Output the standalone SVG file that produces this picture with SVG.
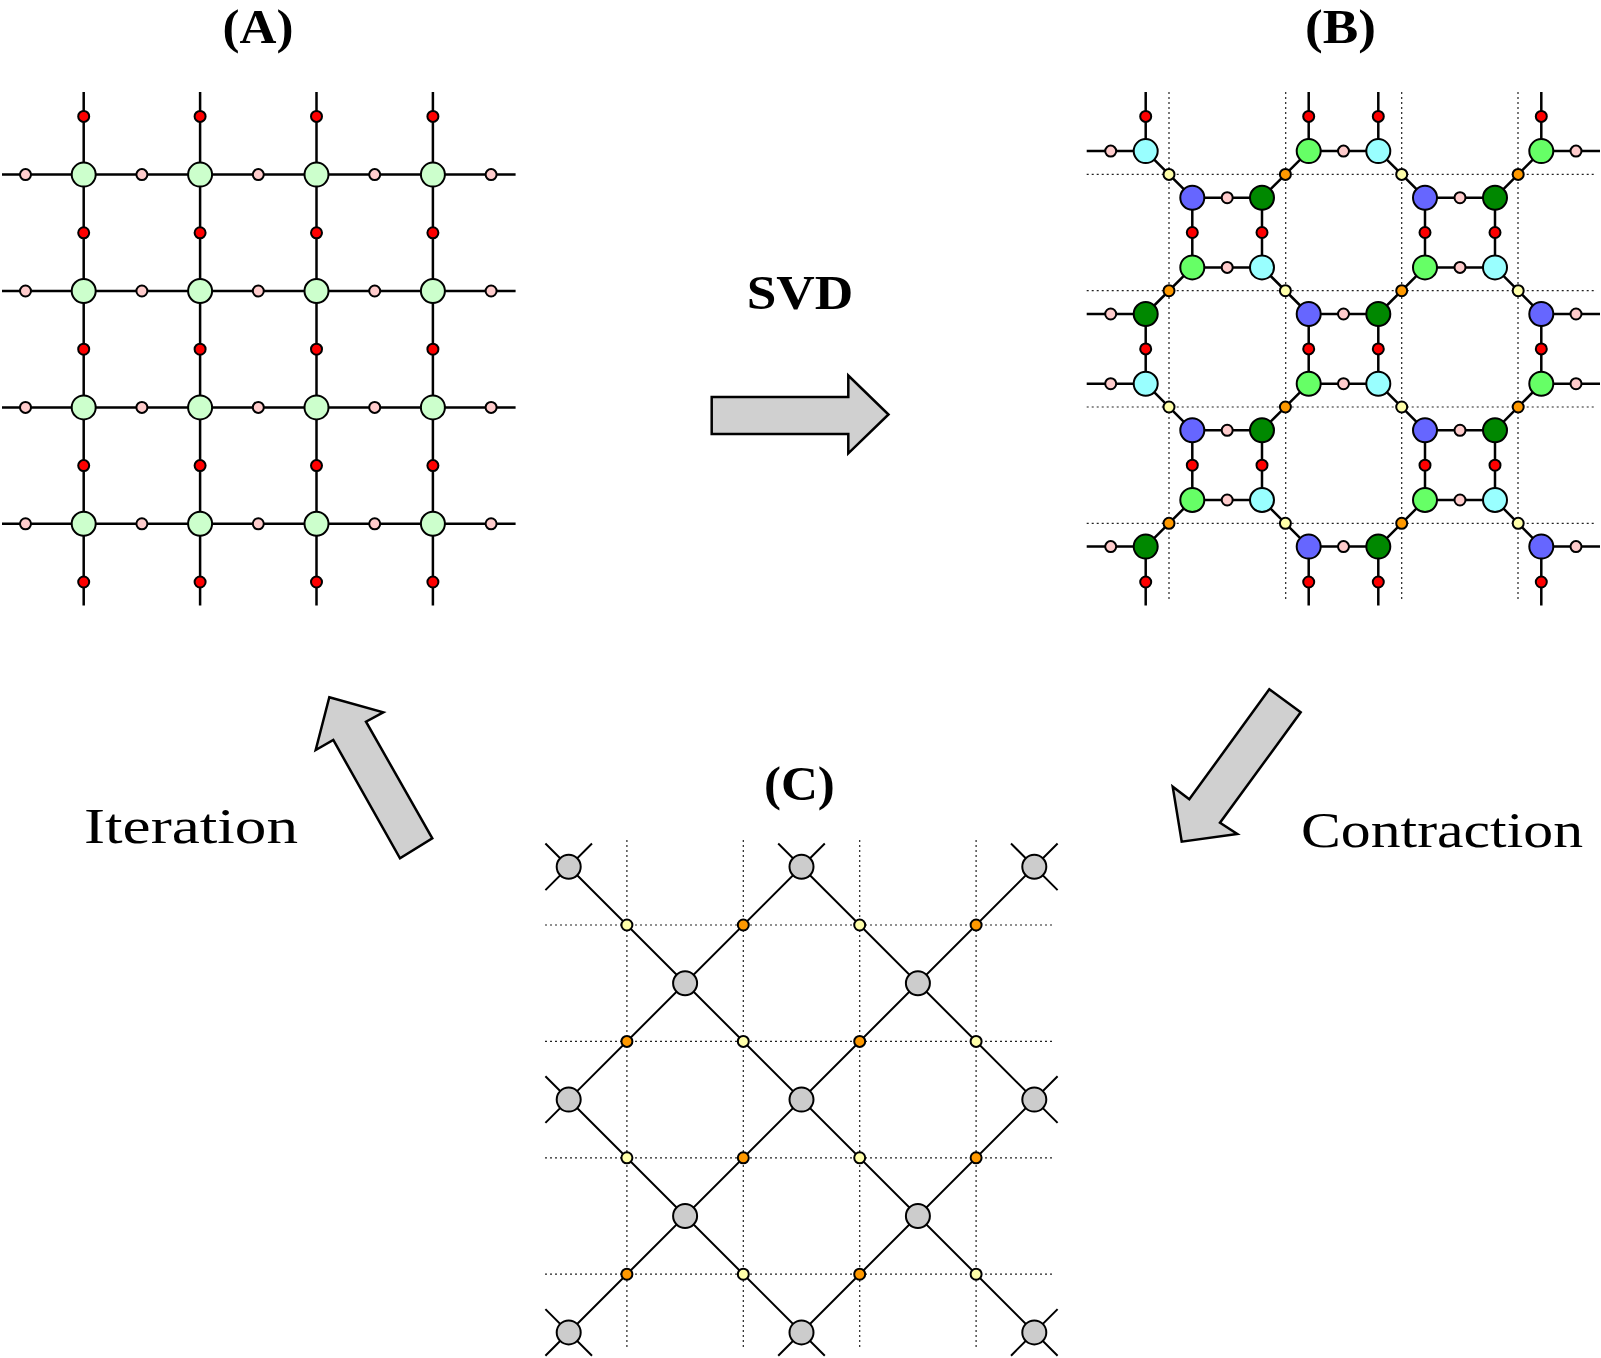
<svg xmlns="http://www.w3.org/2000/svg" width="1601" height="1358" viewBox="0 0 1601 1358">
<style>
.e{stroke:#000;stroke-width:2.5;fill:none}
.ec{stroke:#000;stroke-width:2;fill:none}
.d{stroke:#222;stroke-width:1.2;stroke-dasharray:2,3;fill:none}
circle{stroke:#000;stroke-width:2}
.lgA{fill:#ccffcc}.red{fill:#ff0000}.pk{fill:#ffcccc}
.cy{fill:#99ffff}.lg{fill:#66ff66}.dg{fill:#008800}.bl{fill:#6666ff}
.ye{fill:#ffffaa}.or{fill:#ff9900}.gr{fill:#cccccc}
.ar{fill:#d0d0d0;stroke:#000;stroke-width:2.5;stroke-linejoin:miter}
.t{font-family:"Liberation Serif",serif;fill:#000}
.tb{font-weight:bold}
</style>
<rect width="1601" height="1358" fill="#fff"/>
<g id="titles">
<text class="t tb" x="258" y="43" font-size="48" text-anchor="middle" textLength="71" lengthAdjust="spacingAndGlyphs">(A)</text>
<text class="t tb" x="1340.6" y="43" font-size="48" text-anchor="middle" textLength="71" lengthAdjust="spacingAndGlyphs">(B)</text>
<text class="t tb" x="799.4" y="800" font-size="48" text-anchor="middle" textLength="71" lengthAdjust="spacingAndGlyphs">(C)</text>
<text class="t tb" x="746.7" y="309.3" font-size="48" textLength="106.6" lengthAdjust="spacingAndGlyphs">SVD</text>
<text class="t" x="1301" y="847" font-size="50" textLength="282" lengthAdjust="spacingAndGlyphs">Contraction</text>
<text class="t" x="84" y="843" font-size="50" textLength="214" lengthAdjust="spacingAndGlyphs">Iteration</text>
</g>
<g id="arrows">
<polygon class="ar" points="711.7,397 848.3,397 848.3,375.5 888.5,414.5 848.3,453.3 848.3,434 711.7,434"/>
<polygon class="ar" points="1269.3,689.3 1300.7,712.3 1220,822.7 1237.3,834 1181.7,841.7 1172.7,786.7 1189.3,799.3"/>
<polygon class="ar" points="329.3,697.3 383.3,712.3 366,721.7 432.3,838.3 400,858.3 333.3,740 315.7,750"/>
</g>
<g id="panelA">
<g id="A-edges">
<path class="e" d="M83.7,92V605.5M200.1,92V605.5M316.5,92V605.5M432.9,92V605.5M2,174.6H515.6M2,291H515.6M2,407.4H515.6M2,523.8H515.6"/>
</g>
<g id="A-nodes">
<g class="red">
<circle cx="83.7" cy="116.4" r="5.5"/><circle cx="83.7" cy="232.8" r="5.5"/><circle cx="83.7" cy="349.2" r="5.5"/><circle cx="83.7" cy="465.6" r="5.5"/><circle cx="83.7" cy="582" r="5.5"/>
<circle cx="200.1" cy="116.4" r="5.5"/><circle cx="200.1" cy="232.8" r="5.5"/><circle cx="200.1" cy="349.2" r="5.5"/><circle cx="200.1" cy="465.6" r="5.5"/><circle cx="200.1" cy="582" r="5.5"/>
<circle cx="316.5" cy="116.4" r="5.5"/><circle cx="316.5" cy="232.8" r="5.5"/><circle cx="316.5" cy="349.2" r="5.5"/><circle cx="316.5" cy="465.6" r="5.5"/><circle cx="316.5" cy="582" r="5.5"/>
<circle cx="432.9" cy="116.4" r="5.5"/><circle cx="432.9" cy="232.8" r="5.5"/><circle cx="432.9" cy="349.2" r="5.5"/><circle cx="432.9" cy="465.6" r="5.5"/><circle cx="432.9" cy="582" r="5.5"/>
</g>
<g class="pk">
<circle cx="25.5" cy="174.6" r="5.5"/><circle cx="141.9" cy="174.6" r="5.5"/><circle cx="258.3" cy="174.6" r="5.5"/><circle cx="374.7" cy="174.6" r="5.5"/><circle cx="491.1" cy="174.6" r="5.5"/>
<circle cx="25.5" cy="291" r="5.5"/><circle cx="141.9" cy="291" r="5.5"/><circle cx="258.3" cy="291" r="5.5"/><circle cx="374.7" cy="291" r="5.5"/><circle cx="491.1" cy="291" r="5.5"/>
<circle cx="25.5" cy="407.4" r="5.5"/><circle cx="141.9" cy="407.4" r="5.5"/><circle cx="258.3" cy="407.4" r="5.5"/><circle cx="374.7" cy="407.4" r="5.5"/><circle cx="491.1" cy="407.4" r="5.5"/>
<circle cx="25.5" cy="523.8" r="5.5"/><circle cx="141.9" cy="523.8" r="5.5"/><circle cx="258.3" cy="523.8" r="5.5"/><circle cx="374.7" cy="523.8" r="5.5"/><circle cx="491.1" cy="523.8" r="5.5"/>
</g>
<g class="lgA">
<circle cx="83.7" cy="174.6" r="12"/><circle cx="200.1" cy="174.6" r="12"/><circle cx="316.5" cy="174.6" r="12"/><circle cx="432.9" cy="174.6" r="12"/>
<circle cx="83.7" cy="291" r="12"/><circle cx="200.1" cy="291" r="12"/><circle cx="316.5" cy="291" r="12"/><circle cx="432.9" cy="291" r="12"/>
<circle cx="83.7" cy="407.4" r="12"/><circle cx="200.1" cy="407.4" r="12"/><circle cx="316.5" cy="407.4" r="12"/><circle cx="432.9" cy="407.4" r="12"/>
<circle cx="83.7" cy="523.8" r="12"/><circle cx="200.1" cy="523.8" r="12"/><circle cx="316.5" cy="523.8" r="12"/><circle cx="432.9" cy="523.8" r="12"/>
</g>
</g>
</g>
<g id="panelB">
<g id="B-guides">
<path class="d" d="M1169,92V600M1285.7,92V600M1401.7,92V600M1518,92V600M1086.7,174.4H1596.7M1086.7,290.7H1596.7M1086.7,407H1596.7M1086.7,523.3H1596.7"/>
</g>
<g id="B-edges">
<path class="e" d="M1086.7,151.1H1145.7M1308.7,151.1H1378.3M1541.3,151.1H1600
M1192.3,197.7H1262M1425,197.7H1495M1192.3,267.4H1262M1425,267.4H1495
M1086.7,314H1145.7M1308.7,314H1378.3M1541.3,314H1600
M1086.7,383.7H1145.7M1308.7,383.7H1378.3M1541.3,383.7H1600
M1192.3,430.3H1262M1425,430.3H1495M1192.3,500H1262M1425,500H1495
M1086.7,546.6H1145.7M1308.7,546.6H1378.3M1541.3,546.6H1600
M1145.7,92V151.1M1308.7,92V151.1M1378.3,92V151.1M1541.3,92V151.1
M1145.7,314V383.7M1308.7,314V383.7M1378.3,314V383.7M1541.3,314V383.7
M1145.7,546.6V605.5M1308.7,546.6V605.5M1378.3,546.6V605.5M1541.3,546.6V605.5
M1192.3,197.7V267.4M1262,197.7V267.4M1425,197.7V267.4M1495,197.7V267.4
M1192.3,430.3V500M1262,430.3V500M1425,430.3V500M1495,430.3V500
M1145.7,151.1L1192.3,197.7M1308.7,151.1L1262,197.7M1378.3,151.1L1425,197.7M1541.3,151.1L1495,197.7
M1192.3,267.4L1145.7,314M1262,267.4L1308.7,314M1425,267.4L1378.3,314M1495,267.4L1541.3,314
M1145.7,383.7L1192.3,430.3M1308.7,383.7L1262,430.3M1378.3,383.7L1425,430.3M1541.3,383.7L1495,430.3
M1192.3,500L1145.7,546.6M1262,500L1308.7,546.6M1425,500L1378.3,546.6M1495,500L1541.3,546.6"/>
</g>
<g id="B-small">
<g class="pk">
<circle cx="1110.7" cy="151.1" r="5.5"/><circle cx="1343.5" cy="151.1" r="5.5"/><circle cx="1576" cy="151.1" r="5.5"/>
<circle cx="1227.2" cy="197.7" r="5.5"/><circle cx="1460" cy="197.7" r="5.5"/><circle cx="1227.2" cy="267.4" r="5.5"/><circle cx="1460" cy="267.4" r="5.5"/>
<circle cx="1110.7" cy="314" r="5.5"/><circle cx="1343.5" cy="314" r="5.5"/><circle cx="1576" cy="314" r="5.5"/>
<circle cx="1110.7" cy="383.7" r="5.5"/><circle cx="1343.5" cy="383.7" r="5.5"/><circle cx="1576" cy="383.7" r="5.5"/>
<circle cx="1227.2" cy="430.3" r="5.5"/><circle cx="1460" cy="430.3" r="5.5"/><circle cx="1227.2" cy="500" r="5.5"/><circle cx="1460" cy="500" r="5.5"/>
<circle cx="1110.7" cy="546.6" r="5.5"/><circle cx="1343.5" cy="546.6" r="5.5"/><circle cx="1576" cy="546.6" r="5.5"/>
</g>
<g class="red">
<circle cx="1145.7" cy="116.4" r="5.5"/><circle cx="1308.7" cy="116.4" r="5.5"/><circle cx="1378.3" cy="116.4" r="5.5"/><circle cx="1541.3" cy="116.4" r="5.5"/>
<circle cx="1145.7" cy="348.9" r="5.5"/><circle cx="1308.7" cy="348.9" r="5.5"/><circle cx="1378.3" cy="348.9" r="5.5"/><circle cx="1541.3" cy="348.9" r="5.5"/>
<circle cx="1145.7" cy="582" r="5.5"/><circle cx="1308.7" cy="582" r="5.5"/><circle cx="1378.3" cy="582" r="5.5"/><circle cx="1541.3" cy="582" r="5.5"/>
<circle cx="1192.3" cy="232.5" r="5.5"/><circle cx="1262" cy="232.5" r="5.5"/><circle cx="1425" cy="232.5" r="5.5"/><circle cx="1495" cy="232.5" r="5.5"/>
<circle cx="1192.3" cy="465.2" r="5.5"/><circle cx="1262" cy="465.2" r="5.5"/><circle cx="1425" cy="465.2" r="5.5"/><circle cx="1495" cy="465.2" r="5.5"/>
</g>
<circle class="ye" cx="1169" cy="174.4" r="5.5"/><circle class="or" cx="1285.4" cy="174.4" r="5.5"/><circle class="ye" cx="1401.7" cy="174.4" r="5.5"/><circle class="or" cx="1518.2" cy="174.4" r="5.5"/>
<circle class="or" cx="1169" cy="290.7" r="5.5"/><circle class="ye" cx="1285.4" cy="290.7" r="5.5"/><circle class="or" cx="1401.7" cy="290.7" r="5.5"/><circle class="ye" cx="1518.2" cy="290.7" r="5.5"/>
<circle class="ye" cx="1169" cy="407" r="5.5"/><circle class="or" cx="1285.4" cy="407" r="5.5"/><circle class="ye" cx="1401.7" cy="407" r="5.5"/><circle class="or" cx="1518.2" cy="407" r="5.5"/>
<circle class="or" cx="1169" cy="523.3" r="5.5"/><circle class="ye" cx="1285.4" cy="523.3" r="5.5"/><circle class="or" cx="1401.7" cy="523.3" r="5.5"/><circle class="ye" cx="1518.2" cy="523.3" r="5.5"/>
</g>
<g id="B-nodes">
<circle class="cy" cx="1145.7" cy="151.1" r="12"/><circle class="lg" cx="1308.7" cy="151.1" r="12"/><circle class="cy" cx="1378.3" cy="151.1" r="12"/><circle class="lg" cx="1541.3" cy="151.1" r="12"/>
<circle class="bl" cx="1192.3" cy="197.7" r="12"/><circle class="dg" cx="1262" cy="197.7" r="12"/><circle class="bl" cx="1425" cy="197.7" r="12"/><circle class="dg" cx="1495" cy="197.7" r="12"/>
<circle class="lg" cx="1192.3" cy="267.4" r="12"/><circle class="cy" cx="1262" cy="267.4" r="12"/><circle class="lg" cx="1425" cy="267.4" r="12"/><circle class="cy" cx="1495" cy="267.4" r="12"/>
<circle class="dg" cx="1145.7" cy="314" r="12"/><circle class="bl" cx="1308.7" cy="314" r="12"/><circle class="dg" cx="1378.3" cy="314" r="12"/><circle class="bl" cx="1541.3" cy="314" r="12"/>
<circle class="cy" cx="1145.7" cy="383.7" r="12"/><circle class="lg" cx="1308.7" cy="383.7" r="12"/><circle class="cy" cx="1378.3" cy="383.7" r="12"/><circle class="lg" cx="1541.3" cy="383.7" r="12"/>
<circle class="bl" cx="1192.3" cy="430.3" r="12"/><circle class="dg" cx="1262" cy="430.3" r="12"/><circle class="bl" cx="1425" cy="430.3" r="12"/><circle class="dg" cx="1495" cy="430.3" r="12"/>
<circle class="lg" cx="1192.3" cy="500" r="12"/><circle class="cy" cx="1262" cy="500" r="12"/><circle class="lg" cx="1425" cy="500" r="12"/><circle class="cy" cx="1495" cy="500" r="12"/>
<circle class="dg" cx="1145.7" cy="546.6" r="12"/><circle class="bl" cx="1308.7" cy="546.6" r="12"/><circle class="dg" cx="1378.3" cy="546.6" r="12"/><circle class="bl" cx="1541.3" cy="546.6" r="12"/>
</g>
</g>
<g id="panelC">
<g id="C-guides">
<path class="d" d="M626.9,840V1350M743.3,840V1350M859.7,840V1350M976.1,840V1350M545,925H1054M545,1041.4H1054M545,1157.8H1054M545,1274.2H1054"/>
</g>
<g id="C-edges">
<path class="ec" d="M545.4,843.5L1057.6,1355.7M778.2,843.5L1057.6,1122.9M1011,843.5L1057.6,890.1M545.4,1076.3L824.8,1355.7M545.4,1309.1L592,1355.7
M545.4,890.1L592,843.5M545.4,1122.9L824.8,843.5M545.4,1355.7L1057.6,843.5M778.2,1355.7L1057.6,1076.3M1011,1355.7L1057.6,1309.1"/>
</g>
<g id="C-small">
<circle class="ye" cx="626.9" cy="925" r="5.5"/><circle class="or" cx="743.3" cy="925" r="5.5"/><circle class="ye" cx="859.7" cy="925" r="5.5"/><circle class="or" cx="976.1" cy="925" r="5.5"/>
<circle class="or" cx="626.9" cy="1041.4" r="5.5"/><circle class="ye" cx="743.3" cy="1041.4" r="5.5"/><circle class="or" cx="859.7" cy="1041.4" r="5.5"/><circle class="ye" cx="976.1" cy="1041.4" r="5.5"/>
<circle class="ye" cx="626.9" cy="1157.8" r="5.5"/><circle class="or" cx="743.3" cy="1157.8" r="5.5"/><circle class="ye" cx="859.7" cy="1157.8" r="5.5"/><circle class="or" cx="976.1" cy="1157.8" r="5.5"/>
<circle class="or" cx="626.9" cy="1274.2" r="5.5"/><circle class="ye" cx="743.3" cy="1274.2" r="5.5"/><circle class="or" cx="859.7" cy="1274.2" r="5.5"/><circle class="ye" cx="976.1" cy="1274.2" r="5.5"/>
</g>
<g id="C-nodes" class="gr">
<circle cx="568.7" cy="866.8" r="12"/><circle cx="801.5" cy="866.8" r="12"/><circle cx="1034.3" cy="866.8" r="12"/>
<circle cx="685.1" cy="983.2" r="12"/><circle cx="917.9" cy="983.2" r="12"/>
<circle cx="568.7" cy="1099.6" r="12"/><circle cx="801.5" cy="1099.6" r="12"/><circle cx="1034.3" cy="1099.6" r="12"/>
<circle cx="685.1" cy="1216" r="12"/><circle cx="917.9" cy="1216" r="12"/>
<circle cx="568.7" cy="1332.4" r="12"/><circle cx="801.5" cy="1332.4" r="12"/><circle cx="1034.3" cy="1332.4" r="12"/>
</g>
</g>
</svg>
